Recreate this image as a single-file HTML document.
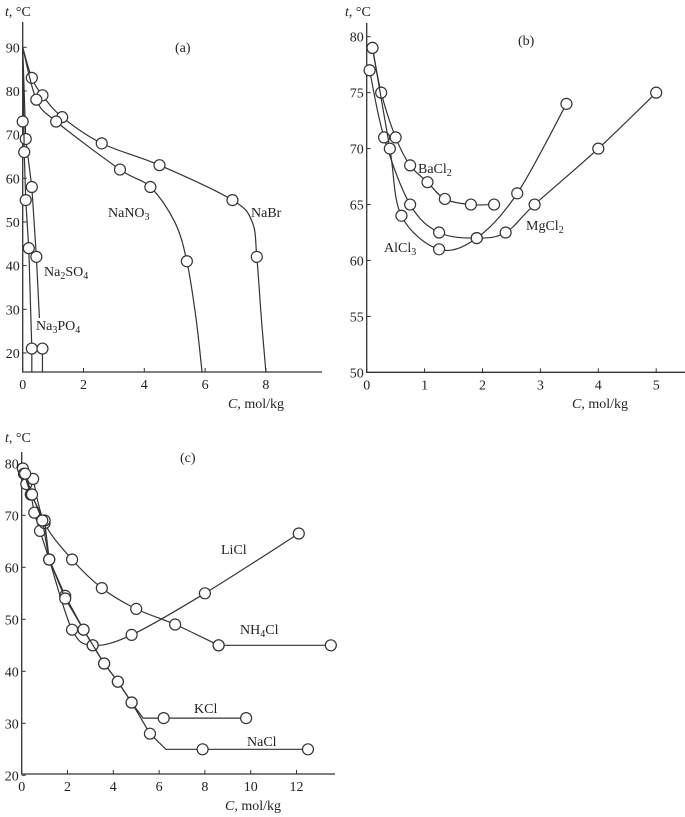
<!DOCTYPE html>
<html><head><meta charset="utf-8"><style>
body{margin:0;background:#fff}
svg{display:block}
text{font-family:"Liberation Serif",serif;font-size:14px;fill:#222}
</style></head><body>
<svg id="chart" width="685" height="817" viewBox="0 0 685 817" xmlns="http://www.w3.org/2000/svg"></svg>
<script>
// ---------- data ----------
// panel a
const aNaBrX=[0,0.3,0.65,1.3,2.6,4.5,6.9,7.55,7.7,7.85,8.0];
const aNaBrT=[90,83,79,74,68,63,55,50,42,28,15.6];
const aNaBrM=[0,1,1,1,1,1,1,0,1,0,0];
const aNaNO3X=[0,0.45,1.1,3.2,4.2,5.0,5.4,5.7,5.9];
const aNaNO3T=[90,78,73,62,58,50,41,28,15.6];
const aNaNO3M=[0,1,1,1,1,0,1,0,0];
const aNa2SO4X=[0,0.1,0.3,0.45,0.55];
const aNa2SO4T=[90,69,58,42,28];
const aNa2SO4M=[0,1,1,1,0];
const aNa3PO4X=[0,0.05,0.1,0.2,0.3,0.3];
const aNa3PO4T=[90,66,55,44,21,15.6];
const aNa3PO4M=[0,1,1,1,1,0];
const aExtraX=[0,0.65,0.65];
const aExtraT=[73,21,15.6];
// panel b
const bBaCl2X=[0.1,0.25,0.5,0.75,1.05,1.35,1.8,2.2];
const bBaCl2T=[79,75,71,68.5,67,65.5,65,65];
const bMgCl2X=[0.05,0.3,0.75,1.25,1.9,2.4,2.9,4.0,5.0];
const bMgCl2T=[77,71,65,62.5,62,62.5,65,70,75];
const bAlCl3X=[0.1,0.4,0.6,1.25,1.9,2.6,3.45];
const bAlCl3T=[79,70,64,61,62,66,74];
// panel c
const cLiClX=[0.05,0.2,0.4,0.55,0.8,1.2,2.2,3.1,4.8,8.0,12.1];
const cLiClT=[79,76,74,70.5,67,61.5,48,45,47,55,66.5];
const cNH4ClX=[0.5,1.0,2.2,3.5,5.0,6.7,8.6];
const cNH4ClT=[77,68.5,61.5,56,52,49,45];
const cNH4ClTailX=[8.6,13.5];
const cNH4ClTailT=[45,45];
const cKClX=[0.1,0.4,1.0,1.2,1.9,2.7,3.1,3.6,4.2,4.8,5.3,6.2,9.8];
const cKClT=[78,74,69,61.5,54.5,48,45,41.5,38,34,31,31,31];
const cKClM=[1,1,1,1,1,1,1,1,1,1,0,1,1];
const cNaClX=[0.15,0.45,0.9,1.2,1.9,2.7,3.6,4.2,4.8,5.6,6.3,7.9,12.5];
const cNaClT=[78,74,69,61.5,54,48,41.5,38,34,28,25,25,25];
const cNaClM=[1,1,1,1,1,1,1,1,1,1,0,1,1];
const aXTicks=[0,2,4,6,8], aYTicks=[20,30,40,50,60,70,80,90];
const bXTicks=[0,1,2,3,4,5], bYTicks=[50,55,60,65,70,75,80];
const cXTicks=[0,2,4,6,8,10,12], cYTicks=[20,30,40,50,60,70,80];

const svg=document.getElementById('chart');
const NS='http://www.w3.org/2000/svg';
function mk(tag,attrs,parent){const e=document.createElementNS(NS,tag);for(const k in attrs)e.setAttribute(k,attrs[k]);(parent||svg).appendChild(e);return e;}
function panel(name,x0,px,xEnd,y0v,y0,py,yTop,xAxisY,xt,yt){
  const g=mk('g',{});
  
  
  const sx=v=>x0+v*px, sy=v=>y0-(v-y0v)*py;
  const ax=mk('path',{d:`M${x0},${yTop}V${xAxisY}H${xEnd}`,fill:'none',stroke:'#333','stroke-width':1.3},g);
  
  
  xt.forEach(v=>{mk('line',{x1:sx(v),x2:sx(v),y1:xAxisY,y2:xAxisY-4,stroke:'#333'},g);
    const t=mk('text',{x:sx(v),y:xAxisY+17,'text-anchor':'middle'},g);t.textContent=v;
    
    });
  yt.forEach(v=>{mk('line',{x1:x0,x2:x0+4,y1:sy(v),y2:sy(v),stroke:'#333'},g);
    const t=mk('text',{x:x0-3,y:sy(v)+5,'text-anchor':'end'},g);t.textContent=v;
    
    });
  return {g,sx,sy};
}
function smooth(pts){
  if(pts.length<3)return 'M'+pts.map(p=>p.join(',')).join('L');
  let d=`M${pts[0][0]},${pts[0][1]}`;
  for(let i=0;i<pts.length-1;i++){
    const p0=pts[i-1]||pts[i],p1=pts[i],p2=pts[i+1],p3=pts[i+2]||p2;
    const c1=[p1[0]+(p2[0]-p0[0])/6,p1[1]+(p2[1]-p0[1])/6];
    const c2=[p2[0]-(p3[0]-p1[0])/6,p2[1]-(p3[1]-p1[1])/6];
    d+=`C${c1[0]},${c1[1]} ${c2[0]},${c2[1]} ${p2[0]},${p2[1]}`;
  }
  return d;
}
function series(P,name,xs,ts,ms,curve){
  const pts=xs.map((x,i)=>[P.sx(x),P.sy(ts[i])]);
  const l=mk('path',{d:curve?smooth(pts):'M'+pts.map(p=>p.join(',')).join('L'),fill:'none',stroke:'#333','stroke-width':1.2},P.g);
  
  
  pts.forEach((p,i)=>{if(ms&&!ms[i])return;
    const c=mk('circle',{cx:p[0],cy:p[1],r:5.5,fill:'#fff',stroke:'#333','stroke-width':1.2},P.g);
    
    });
}
function label(P,x,y,html,name){
  const t=mk('text',{x:x,y:y},P.g);t.innerHTML=html;
  
  
}
const sub=s=>`<tspan font-size="10" dy="3">${s}</tspan><tspan dy="-3">\u200b</tspan>`;

// panel a
const A=panel('panel-a',22.7,30.4,322,90,47.3,4.366,22,372,aXTicks,aYTicks);
series(A,'nabr',aNaBrX,aNaBrT,aNaBrM,true);
series(A,'nano3',aNaNO3X,aNaNO3T,aNaNO3M,true);
series(A,'na2so4',aNa2SO4X,aNa2SO4T,aNa2SO4M,false);
series(A,'na3po4',aNa3PO4X,aNa3PO4T,aNa3PO4M,false);
series(A,'extra',aExtraX.slice(1),aExtraT.slice(1),[1,0],false);
series(A,'extra-top',[aExtraX[0]],[aExtraT[0]],[1],false);
label(A,5,16,'<tspan font-style="italic">t</tspan>, °C','y-axis-title');
label(A,175,52,'(a)','panel-label');
label(A,108,217,'NaNO'+sub('3'),'nano3-label');
label(A,251,217,'NaBr','nabr-label');
label(A,44,276,'Na'+sub('2')+'SO'+sub('4'),'na2so4-label');
label(A,36,330,'Na'+sub('3')+'PO'+sub('4'),'na3po4-label');
label(A,228,408,'<tspan font-style="italic">C</tspan>,  mol/kg','x-axis-title');

// panel b
const B=panel('panel-b',366.7,57.9,685,80,36.7,11.19,23,372.3,bXTicks,bYTicks);
series(B,'bacl2',bBaCl2X,bBaCl2T,null,true);
series(B,'mgcl2',bMgCl2X,bMgCl2T,null,true);
series(B,'alcl3',bAlCl3X,bAlCl3T,null,true);
label(B,345,16,'<tspan font-style="italic">t</tspan>, °C','y-axis-title');
label(B,518,45,'(b)','panel-label');
label(B,418,173,'BaCl'+sub('2'),'bacl2-label');
label(B,526,230,'MgCl'+sub('2'),'mgcl2-label');
label(B,384,252,'AlCl'+sub('3'),'alcl3-label');
label(B,572,408,'<tspan font-style="italic">C</tspan>,  mol/kg','x-axis-title');

// panel c
const C=panel('panel-c',21.7,22.9,335,80,463.3,5.2,452,774,cXTicks,cYTicks);
series(C,'licl',cLiClX,cLiClT,null,true);
series(C,'nh4cl',cNH4ClX,cNH4ClT,null,true);
series(C,'nh4cl-tail',cNH4ClTailX,cNH4ClTailT,null,false);
series(C,'kcl',cKClX,cKClT,cKClM,false);
series(C,'nacl',cNaClX,cNaClT,cNaClM,false);
label(C,5,442,'<tspan font-style="italic">t</tspan>, °C','y-axis-title');
label(C,180,462,'(c)','panel-label');
label(C,221,554,'LiCl','licl-label');
label(C,240,634,'NH'+sub('4')+'Cl','nh4cl-label');
label(C,194,713,'KCl','kcl-label');
label(C,247,746,'NaCl','nacl-label');
label(C,225,810,'<tspan font-style="italic">C</tspan>,  mol/kg','x-axis-title');
</script>
</body></html>
